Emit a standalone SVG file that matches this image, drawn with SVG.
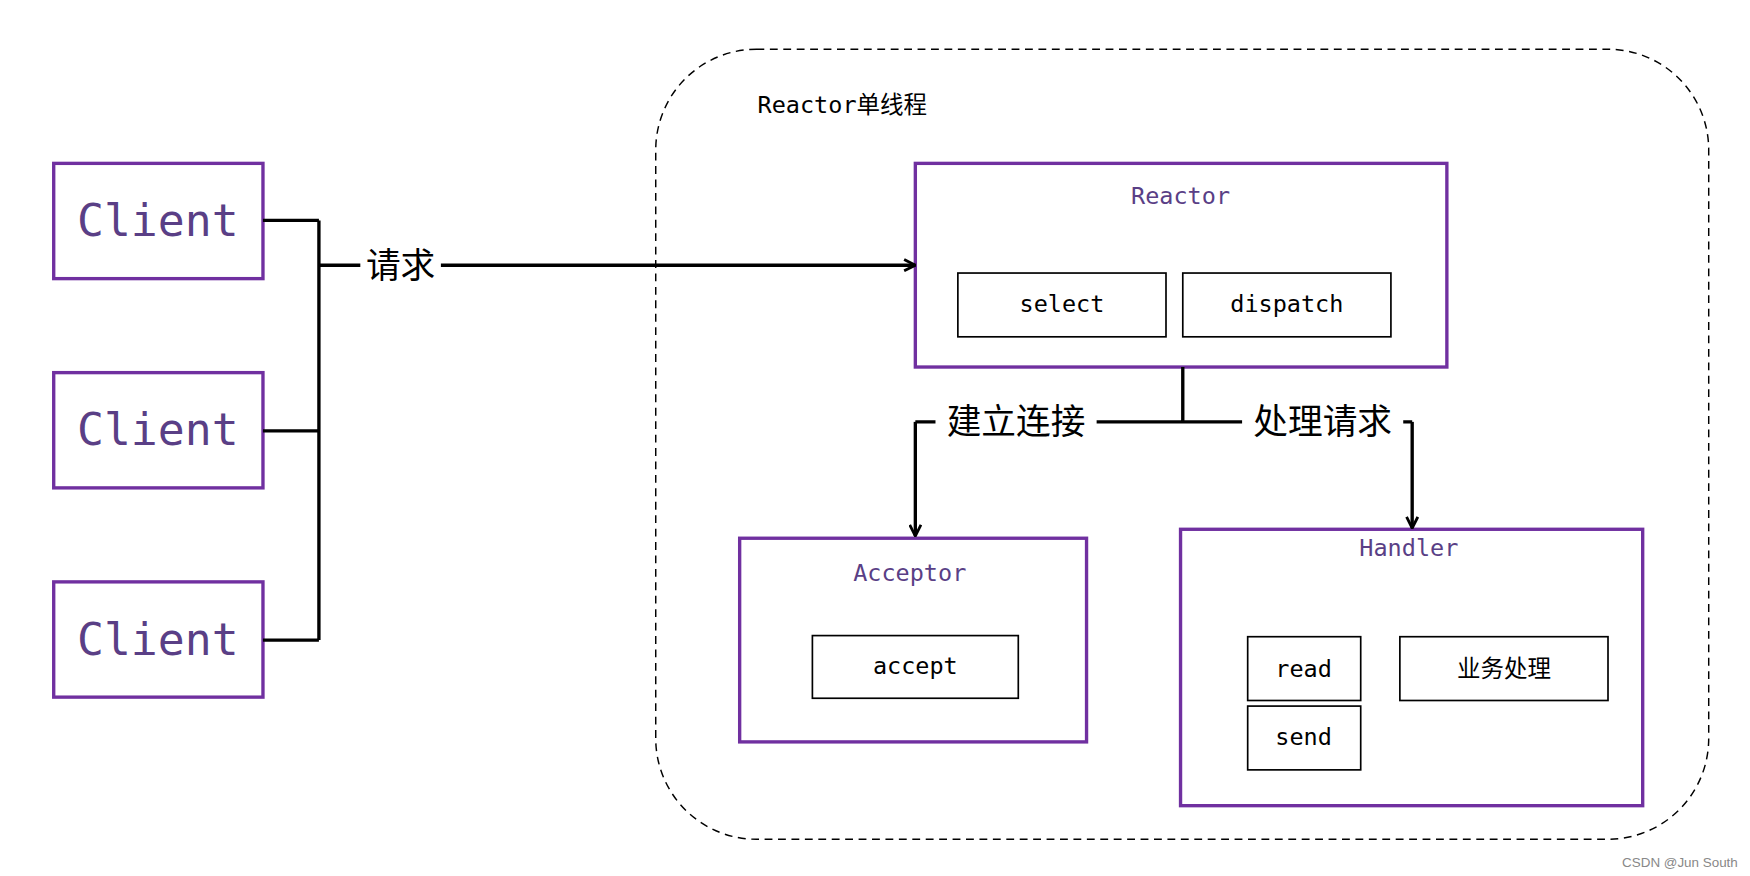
<svg xmlns="http://www.w3.org/2000/svg" width="1750" height="876" viewBox="0 0 1750 876">
<style>
.pb{fill:#fff;stroke:#7030a0;stroke-width:3}
.bb{fill:#fff;stroke:#000;stroke-width:1.5}
.cl{font-family:"DejaVu Sans Mono","Liberation Mono",monospace;font-size:40px;fill:#5a3f86}
.tt{font-family:"DejaVu Sans Mono","Liberation Mono",monospace;font-size:21px;fill:#5a3f86}
.bt{font-family:"DejaVu Sans Mono","Liberation Mono","Noto Sans CJK SC",monospace;font-size:21px;fill:#000}
.lb{font-family:"Noto Sans CJK SC",sans-serif;font-size:31px;fill:#000}
.ln{fill:none;stroke:#000;stroke-width:3}
</style>
<defs><marker id="a" viewBox="0 0 12 12" refX="11" refY="6" markerWidth="12" markerHeight="12" markerUnits="userSpaceOnUse" orient="auto"><path d="M1,1 L11,6 L1,11" fill="none" stroke="#000" stroke-width="2.5"/></marker></defs>
<rect width="1750" height="876" fill="#fff"/>
<g transform="scale(1.119)">
<rect x="586" y="44" width="941" height="706" rx="90" fill="none" stroke="#000" stroke-width="1.3" stroke-dasharray="7,5"/>
<text x="677" y="101" class="bt">Reactor单线程</text>
<g id="c1"><rect class="pb" x="48" y="146" width="187" height="103"/><text class="cl" x="141" y="211" text-anchor="middle">Client</text></g>
<g id="c2"><rect class="pb" x="48" y="333" width="187" height="103"/><text class="cl" x="141" y="398" text-anchor="middle">Client</text></g>
<g id="c3"><rect class="pb" x="48" y="520" width="187" height="103"/><text class="cl" x="141" y="585" text-anchor="middle">Client</text></g>
<g id="reactor"><rect class="pb" x="818" y="146" width="475" height="182"/><text class="tt" x="1055" y="182" text-anchor="middle">Reactor</text>
<rect class="bb" x="856" y="244" width="186" height="57"/><text class="bt" x="949" y="279" text-anchor="middle">select</text>
<rect class="bb" x="1057" y="244" width="186" height="57"/><text class="bt" x="1150" y="279" text-anchor="middle">dispatch</text></g>
<g id="acceptor"><rect class="pb" x="661" y="481" width="310" height="182"/><text class="tt" x="813" y="519" text-anchor="middle">Acceptor</text>
<rect class="bb" x="726" y="568" width="184" height="56"/><text class="bt" x="818" y="602" text-anchor="middle">accept</text></g>
<g id="handler"><rect class="pb" x="1055" y="473" width="413" height="247"/><text class="tt" x="1259" y="497" text-anchor="middle">Handler</text>
<rect class="bb" x="1115" y="569" width="101" height="57"/><text class="bt" x="1165" y="605" text-anchor="middle">read</text>
<rect class="bb" x="1115" y="631" width="101" height="57"/><text class="bt" x="1165" y="666" text-anchor="middle">send</text>
<rect class="bb" x="1251" y="569" width="186" height="57"/><text class="bt" x="1344" y="605" text-anchor="middle">业务处理</text></g>
<g id="connectors">
<path class="ln" d="M235,197 H285 M235,385 H285 M235,572 H285 M285,197 V572"/>
<path class="ln" d="M285,237 H818" marker-end="url(#a)"/>
<path class="ln" d="M1057,328 V377 M818,377 H1262"/>
<path class="ln" d="M818,377 V479" marker-end="url(#a)"/>
<path class="ln" d="M1262,377 V472" marker-end="url(#a)"/>
<rect x="322" y="220" width="72" height="34" fill="#fff"/><text class="lb" x="358" y="248" text-anchor="middle">请求</text>
<rect x="836" y="360" width="144" height="34" fill="#fff"/><text class="lb" x="908" y="388" text-anchor="middle">建立连接</text>
<rect x="1110" y="360" width="144" height="34" fill="#fff"/><text class="lb" x="1182" y="388" text-anchor="middle">处理请求</text>
</g>
<text x="1553" y="775" text-anchor="end" font-family="Liberation Sans,sans-serif" font-size="12" fill="#888">CSDN @Jun South</text>
</g>
</svg>
